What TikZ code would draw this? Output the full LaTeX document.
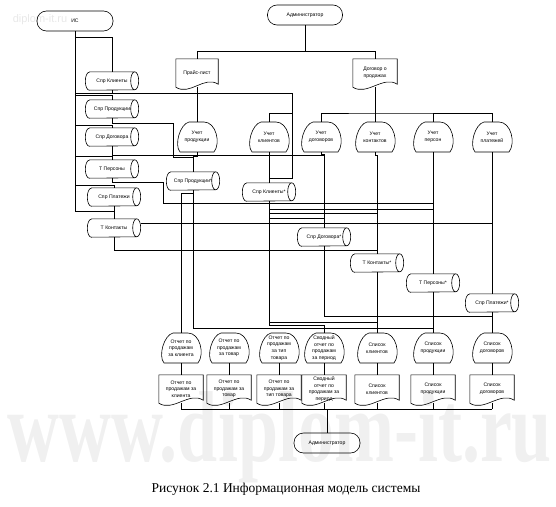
\documentclass[tikz,border=0pt]{standalone}
\usepackage{fontspec}
\setmainfont{Liberation Serif}
\setsansfont{Liberation Sans}

\begin{document}
\begin{tikzpicture}[x=1pt,y=1pt,
    lbl/.style={font=\sffamily\fontsize{5.1}{6.6}\selectfont, align=center, inner sep=0pt},
    term/.style={lbl, draw, line width=0.6pt, rounded corners=9.5pt, minimum height=20pt},
    cyl/.style={lbl, minimum width=53pt, minimum height=18pt},
    docbox/.style={lbl, minimum width=44pt, minimum height=28pt},
    disp/.style={lbl, minimum width=43pt, minimum height=30pt},
    wire/.style={line width=0.6pt}]
    \useasboundingbox (0,0) rectangle (556,-506);

    % watermarks
    \node[text=black!6, font=\bfseries\fontsize{72}{72}\selectfont, inner sep=0pt] (wm) at (280,-437) {\scalebox{1}[1.4]{www.diplom-it.ru}};
    \node[text=black!9, font=\sffamily\fontsize{11}{11}\selectfont, inner sep=0pt] (wm2) at (40,-20) {diplom-it.ru};

    % terminators
    \node[term, minimum width=76pt] (is) at (75,-21) {ИС};
    \node[term, minimum width=75pt] (adm) at (305,-15) {Администратор};
    \node[term, minimum width=66pt] (adm2) at (327,-443) {Администратор};

    % input documents
    \node[docbox, minimum width=42pt] (price) at (197,-73) {Прайс-лист};
    \node[docbox] (dogovor) at (375,-73) {Договор о\\продажах};

    % accounting operations
    \node[disp] (up) at (197,-137) {Учет\\продукции};
    \node[disp] (uk) at (269,-137) {Учет\\клиентов};
    \node[disp] (ud) at (321,-137) {Учет\\договоров};
    \node[disp] (ukt) at (375,-137) {Учет\\контактов};
    \node[disp] (upr) at (433,-137) {Учет\\персон};
    \node[disp] (upl) at (492,-137) {Учет\\платежей};

    % data stores
    \node[cyl] (sk) at (112,-81) {Спр Клиенты};
    \node[cyl] (sp) at (112,-109) {Спр Продукции};
    \node[cyl] (sd) at (112,-137) {Спр Договора};
    \node[cyl] (tp) at (112,-169) {Т Персоны};
    \node[cyl] (spl) at (114,-197) {Спр Платежи};
    \node[cyl] (tk) at (114,-228) {Т Контакты};
    \node[cyl] (sp2) at (193,-181) {Спр Продукции*};
    \node[cyl] (sk2) at (269,-192) {Спр Клиенты*};
    \node[cyl] (sd2) at (324,-237) {Спр Договора*};
    \node[cyl] (tk2) at (377,-263) {Т Контакты*};
    \node[cyl] (tp2) at (433,-283) {Т Персоны*};
    \node[cyl] (spl2) at (492,-303) {Спр Платежи*};

    % reports
    \node[disp] (r1) at (181,-348) {Отчет по\\продажам\\за клиента};
    \node[disp] (r2) at (229,-348) {Отчет по\\продажам\\за товар};
    \node[disp] (r3) at (279,-348) {Отчет по\\продажам\\за тип\\товара};
    \node[disp] (r4) at (324,-348) {Сводный\\отчет по\\продажам\\за период};
    \node[disp] (r5) at (377,-348) {Список\\клиентов};
    \node[disp] (r6) at (433,-348) {Список\\продукции};
    \node[disp] (r7) at (492,-348) {Список\\договоров};
    \node[docbox] (d1) at (181,-389) {Отчет по\\продажам за\\клиента};
    \node[docbox] (d2) at (229,-389) {Отчет по\\продажам за\\товар};
    \node[docbox] (d3) at (279,-389) {Отчет по\\продажам за\\тип товара};
    \node[docbox] (d4) at (324,-389) {Сводный\\отчет по\\продажам за\\период};
    \node[docbox] (d5) at (377,-389) {Список\\клиентов};
    \node[docbox] (d6) at (433,-389) {Список\\продукции};
    \node[docbox] (d7) at (492,-389) {Список\\договоров};

    % outlines
    \foreach \n in {sk,sp,sd,tp,spl,tk,sp2,sk2,sd2,tk2,tp2,spl2}
        \draw[wire] ([xshift=4pt]\n.north west) -- ([xshift=-4pt]\n.north east)
            arc[start angle=90, end angle=-270, x radius=4, y radius=9]
            arc[start angle=90, end angle=-90, x radius=4, y radius=9]
            -- ([xshift=4pt]\n.south west)
            arc[start angle=270, end angle=90, x radius=4, y radius=9] -- cycle;
    \foreach \n in {price,dogovor,d1,d2,d3,d4,d5,d6,d7}
        \draw[wire] (\n.south west) -- (\n.north west) -- (\n.north east) -- ([yshift=3pt]\n.south east)
            .. controls +(-14,9) and +(14,-9) .. (\n.south west);
    \foreach \n in {up,uk,ud,ukt,upr,upl,r1,r2,r3,r4,r5,r6,r7}
        \draw[wire] ([shift={(-17,-15)}]\n.center) -- ([shift={(17,-15)}]\n.center)
            .. controls +(7,9) and +(12,0) .. ([shift={(7,15)}]\n.center)
            -- ([shift={(-8,15)}]\n.center)
            .. controls +(-9,-2) and +(-6,7) .. ([shift={(-17,-15)}]\n.center) -- cycle;

    % administrator to input documents
    \draw[wire] (adm.south) -- ++(0,-26) coordinate (a1);
    \draw[wire] (price.north) |- (a1) -| (dogovor.north);
    \draw[wire] (price.south) -- (up.north);
    \coordinate (cb) at (375,-113);
    \draw[wire] (dogovor.south) -- (cb);
    \draw[wire] (ud.north) |- (cb) -| (upl.north);
    \draw[wire] (ukt.north) -- (cb);
    \draw[wire] (upr.north) -- (upr.north |- cb);

    % IS trunk
    \draw[wire] (is.south) -- (75,-211) -| (tk.north);
    \foreach \n/\y in {sk/-37, sp/-95, sd/-125, tp/-156, spl/-185}
        \draw[wire] (75,\y) -| (\n.north);

    % clients
    \draw[wire] (75,-93) -- (292,-93) -- (292,-178) -| (sk2.north);
    \draw[wire] (sk.south) -- (112,-93);
    \draw[wire] (uk.north) |- (292,-113);
    \draw[wire] (uk.south) -- (sk2.north);

    % products
    \draw[wire] (sp.south) |- (173,-123) -- (173,-157) -| (sp2.north);
    \draw[wire] (up.south) -- ++(0,-4) -| (sp2.north);

    % contracts
    \draw[wire] (sd.south) |- (324,-155) -- (sd2.north);
    \draw[wire] (ud.south) -- ++(0,-2) -| (sd2.north);

    % persons
    \draw[wire] (tp.south) |- (163,-182) -- (163,-203) -| (tp2.north);
    \draw[wire] (upr.south) -- (tp2.north);

    % payments
    \draw[wire] (spl.south) -- (tk.north);
    \draw[wire] ([yshift=5pt]tk.east) -| (spl2.north);
    \draw[wire] (upl.south) -- (spl2.north);

    % contacts
    \draw[wire] (tk.south) |- (377,-250) -- (tk2.north);
    \draw[wire] (ukt.south) -- ++(0,-3) -| (tk2.north);

    % client references
    \draw[wire] (sk2.south) -- (269,-325) -| (r4.north);
    \draw[wire] (269,-209) -| (tp2.north);
    \draw[wire] (269,-213) -| (tk2.north);
    \draw[wire] (269,-218) -| (sd2.north);
    \draw[wire] (269,-322) -| (r5.north);

    % reports and lists
    \draw[wire] (sp2.south) -- ++(0,-3) -| (r1.north);
    \draw[wire] (sp2.south) |- (433,-328) -- (r6.north);
    \draw[wire] (sd2.south) |- (492,-316) -- (r7.north);
    \draw[wire] (tk2.south) -- (r5.north);
    \draw[wire] (tp2.south) -- (r6.north);
    \draw[wire] (spl2.south) -- (r7.north);

    % output documents to administrator
    \coordinate (bb) at (327,-409);
    \foreach \i in {1,...,7} {
        \draw[wire] (r\i.south) -- (d\i.north);
        \draw[wire] (d\i.south) -- (d\i.south |- bb);
    }
    \draw[wire] (d1.south |- bb) -- (d7.south |- bb);
    \draw[wire] (bb) -- (adm2.north);

    \node[font=\fontsize{13.5}{16}\selectfont, inner sep=0pt] (cap) at (286,-489) {Рисунок 2.1 Информационная модель системы};
\end{tikzpicture}
\end{document}
